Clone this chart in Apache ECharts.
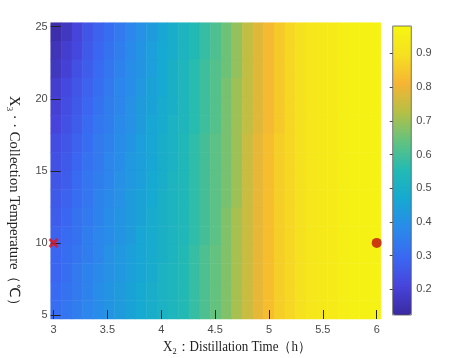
<!DOCTYPE html>
<html>
<head>
<meta charset="utf-8">
<script src="https://cdn.jsdelivr.net/npm/echarts@6.0.0/dist/echarts.min.js"></script>
<style>
html,body{margin:0;padding:0;background:#fff;}
#chart{width:474px;height:358px;}
</style>
</head>
<body>
<div id="chart"></div>
<script>
// X2: distillation time (h), cell centres
var xCats = ['3.0','3.1','3.2','3.3','3.4','3.5','3.6','3.7','3.8','3.9','4.0','4.1','4.2','4.3','4.4','4.5','4.6','4.7','4.8','4.9','5.0','5.1','5.2','5.3','5.4','5.5','5.6','5.7','5.8','5.9','6.0'];
// X3: collection temperature (°C) row centres, listed top to bottom
var yCatsTopDown = ['24.6','23.4','22.1','20.8','19.5','18.2','16.9','15.6','14.4','13.1','11.8','10.5','9.2','7.9','6.6','5.4'];
// response values, one row per temperature (top to bottom)
var row00 = [0.14,0.17,0.21,0.25,0.28,0.31,0.34,0.37,0.40,0.43,0.46,0.49,0.52,0.55,0.58,0.61,0.65,0.69,0.74,0.78,0.82,0.85,0.88,0.90,0.92,0.93,0.94,0.95,0.96,0.96,0.97];
var row01 = [0.16,0.19,0.22,0.26,0.29,0.32,0.35,0.38,0.41,0.44,0.47,0.49,0.52,0.55,0.58,0.61,0.65,0.69,0.74,0.78,0.82,0.85,0.88,0.90,0.92,0.93,0.94,0.95,0.96,0.96,0.97];
var row02 = [0.17,0.20,0.24,0.27,0.30,0.33,0.36,0.39,0.41,0.44,0.47,0.50,0.53,0.56,0.59,0.62,0.65,0.69,0.74,0.78,0.82,0.85,0.88,0.90,0.92,0.93,0.94,0.95,0.96,0.96,0.97];
var row03 = [0.19,0.22,0.25,0.28,0.31,0.34,0.37,0.39,0.42,0.45,0.47,0.50,0.53,0.56,0.59,0.62,0.66,0.70,0.74,0.78,0.82,0.85,0.88,0.90,0.92,0.93,0.94,0.95,0.96,0.96,0.97];
var row04 = [0.20,0.23,0.26,0.29,0.32,0.35,0.37,0.40,0.43,0.45,0.48,0.50,0.53,0.56,0.59,0.62,0.66,0.70,0.74,0.78,0.82,0.85,0.88,0.90,0.92,0.93,0.94,0.95,0.96,0.96,0.97];
var row05 = [0.21,0.24,0.27,0.30,0.33,0.35,0.38,0.40,0.43,0.46,0.48,0.51,0.53,0.56,0.59,0.62,0.66,0.70,0.74,0.78,0.82,0.85,0.88,0.90,0.92,0.93,0.94,0.95,0.96,0.96,0.97];
var row06 = [0.23,0.25,0.28,0.31,0.34,0.36,0.39,0.41,0.44,0.46,0.49,0.51,0.54,0.57,0.60,0.63,0.66,0.70,0.75,0.79,0.83,0.86,0.88,0.90,0.92,0.93,0.94,0.95,0.96,0.96,0.97];
var row07 = [0.24,0.26,0.29,0.32,0.34,0.37,0.39,0.42,0.44,0.46,0.49,0.51,0.54,0.57,0.60,0.63,0.66,0.70,0.75,0.79,0.83,0.86,0.88,0.90,0.92,0.93,0.94,0.95,0.96,0.96,0.97];
var row08 = [0.25,0.27,0.30,0.33,0.35,0.37,0.40,0.42,0.44,0.47,0.49,0.52,0.54,0.57,0.60,0.63,0.66,0.70,0.75,0.79,0.83,0.86,0.88,0.90,0.92,0.93,0.94,0.95,0.96,0.96,0.97];
var row09 = [0.26,0.28,0.31,0.33,0.36,0.38,0.40,0.43,0.45,0.47,0.50,0.52,0.54,0.57,0.60,0.63,0.66,0.70,0.75,0.79,0.83,0.86,0.88,0.90,0.92,0.93,0.94,0.95,0.96,0.96,0.97];
var row10 = [0.27,0.29,0.32,0.34,0.36,0.39,0.41,0.43,0.45,0.48,0.50,0.52,0.54,0.57,0.60,0.63,0.67,0.71,0.75,0.79,0.83,0.86,0.88,0.90,0.92,0.93,0.94,0.95,0.96,0.96,0.97];
var row11 = [0.28,0.30,0.32,0.35,0.37,0.39,0.41,0.43,0.46,0.48,0.50,0.52,0.54,0.57,0.60,0.63,0.67,0.71,0.75,0.79,0.83,0.86,0.88,0.90,0.92,0.93,0.94,0.95,0.96,0.96,0.97];
var row12 = [0.29,0.31,0.33,0.35,0.37,0.40,0.42,0.44,0.46,0.48,0.50,0.52,0.55,0.58,0.61,0.64,0.67,0.71,0.75,0.79,0.83,0.86,0.88,0.90,0.92,0.93,0.94,0.95,0.96,0.96,0.97];
var row13 = [0.29,0.31,0.34,0.36,0.38,0.40,0.42,0.44,0.46,0.48,0.51,0.53,0.55,0.58,0.61,0.64,0.67,0.71,0.75,0.79,0.83,0.86,0.88,0.90,0.92,0.93,0.94,0.95,0.96,0.96,0.97];
var row14 = [0.30,0.32,0.34,0.36,0.39,0.41,0.43,0.45,0.47,0.49,0.51,0.53,0.55,0.58,0.61,0.64,0.67,0.71,0.75,0.79,0.83,0.86,0.88,0.90,0.92,0.93,0.94,0.95,0.96,0.96,0.97];
var row15 = [0.31,0.33,0.35,0.37,0.39,0.41,0.43,0.45,0.47,0.49,0.51,0.53,0.55,0.58,0.61,0.64,0.67,0.71,0.75,0.79,0.83,0.86,0.88,0.90,0.92,0.93,0.94,0.95,0.96,0.96,0.97];
var rowsTopDown = [row00,row01,row02,row03,row04,row05,row06,row07,row08,row09,row10,row11,row12,row13,row14,row15];

// marked points
var crossPoint = [[3, 10]];
var dotPoint = [[6, 10]];

// tick labels
var xTicks = [3, 3.5, 4, 4.5, 5, 5.5, 6];
var yTicks = [5, 10, 15, 20, 25];
var cbTicks = [0.2, 0.3, 0.4, 0.5, 0.6, 0.7, 0.8, 0.9];

var zMin = 0.124, zMax = 0.981;
var parula = ['#3b2aa0','#4744dc','#3a68f2','#2a8aea','#16a8d2','#22bab4','#62c280','#b4c046','#f6b434','#f6e020','#f6f612'];

var yCats = yCatsTopDown.slice().reverse();
var heatData = [];
for (var r = 0; r < rowsTopDown.length; r++) {
  var yi = rowsTopDown.length - 1 - r;
  for (var c = 0; c < xCats.length; c++) {
    heatData.push([c, yi, rowsTopDown[r][c]]);
  }
}

var G = {left: 50.7, top: 22.7, width: 330, height: 296.3};
var CB = {left: 392.7, top: 26, width: 18.6, height: 289};
var labelFont = {color: '#4a4a4a', fontSize: 11, fontFamily: 'Liberation Sans, Arial, sans-serif'};
var serif = 'Liberation Serif, Times New Roman, serif';
var richTitle = {
  a: {fontFamily: serif, fontSize: 14, fill: '#222'},
  s: {fontFamily: serif, fontSize: 9, fill: '#222', padding: [8, 0, 0, 0]}
};

var chart = echarts.init(document.getElementById('chart'), null, {renderer: 'canvas'});
chart.setOption({
  animation: false,
  backgroundColor: '#fff',
  grid: [
    {left: G.left, top: G.top, width: G.width, height: G.height, show: false},
    {left: G.left, top: G.top, width: G.width, height: G.height, show: false},
    {left: CB.left, top: CB.top, width: CB.width, height: CB.height, show: true, borderColor: '#555', borderWidth: 0.8, backgroundColor: 'transparent', z: 5}
  ],
  xAxis: [
    {type: 'category', gridIndex: 0, data: xCats, show: false},
    {type: 'value', gridIndex: 1, min: 2.974, max: 6.037, z: 5,
      axisLine: {show: false}, splitLine: {show: false},
      axisTick: {show: true, inside: true, length: 9, customValues: xTicks, lineStyle: {color: '#222', width: 1}},
      axisLabel: Object.assign({show: true, margin: 5, customValues: xTicks}, labelFont)},
    {type: 'value', gridIndex: 2, show: false, min: 0, max: 1}
  ],
  yAxis: [
    {type: 'category', gridIndex: 0, data: yCats, show: false},
    {type: 'value', gridIndex: 1, min: 4.72, max: 25.28, z: 5,
      axisLine: {show: false}, splitLine: {show: false},
      axisTick: {show: true, inside: true, length: 10, customValues: yTicks, lineStyle: {color: '#222', width: 1}},
      axisLabel: Object.assign({show: true, margin: 3, customValues: yTicks}, labelFont)},
    {type: 'value', gridIndex: 2, position: 'right', min: zMin, max: zMax, z: 5,
      axisLine: {show: false}, splitLine: {show: false},
      axisTick: {show: true, inside: true, length: 3, customValues: cbTicks, lineStyle: {color: '#444', width: 1}},
      axisLabel: Object.assign({show: true, margin: 5, customValues: cbTicks, formatter: function (v) { return v.toFixed(1); }}, labelFont)}
  ],
  visualMap: {
    type: 'continuous', min: zMin, max: zMax, dimension: 2, seriesIndex: 0,
    calculable: false, orient: 'vertical', left: CB.left, top: CB.top,
    itemWidth: CB.width, itemHeight: CB.height, padding: 0, text: null, showLabel: false,
    inRange: {color: parula}
  },
  series: [
    {type: 'heatmap', xAxisIndex: 0, yAxisIndex: 0, data: heatData, itemStyle: {borderWidth: 0}, emphasis: {disabled: true}},
    {type: 'scatter', xAxisIndex: 1, yAxisIndex: 1, data: crossPoint, z: 10,
      symbol: 'path://M0,2L2,0L5,3L8,0L10,2L7,5L10,8L8,10L5,7L2,10L0,8L3,5Z', symbolSize: 10,
      itemStyle: {color: '#e3131b'}},
    {type: 'scatter', xAxisIndex: 1, yAxisIndex: 1, data: dotPoint, z: 10,
      symbol: 'circle', symbolSize: 10, itemStyle: {color: '#c10d0d'}}
  ],
  graphic: [
    {type: 'text', x: 163, y: 339, scaleX: 0.93, z: 20,
      style: {text: '{a|X}{s|2}{a|：Distillation Time（h）}', fill: '#222', rich: richTitle}},
    {type: 'text', x: 22, y: 96, rotation: -Math.PI / 2, scaleX: 1.04, z: 20,
      style: {text: '{a|X}{s|3}{a| · · Collection Temperature（℃）}', fill: '#222', rich: richTitle}}
  ]
});
</script>
</body>
</html>
